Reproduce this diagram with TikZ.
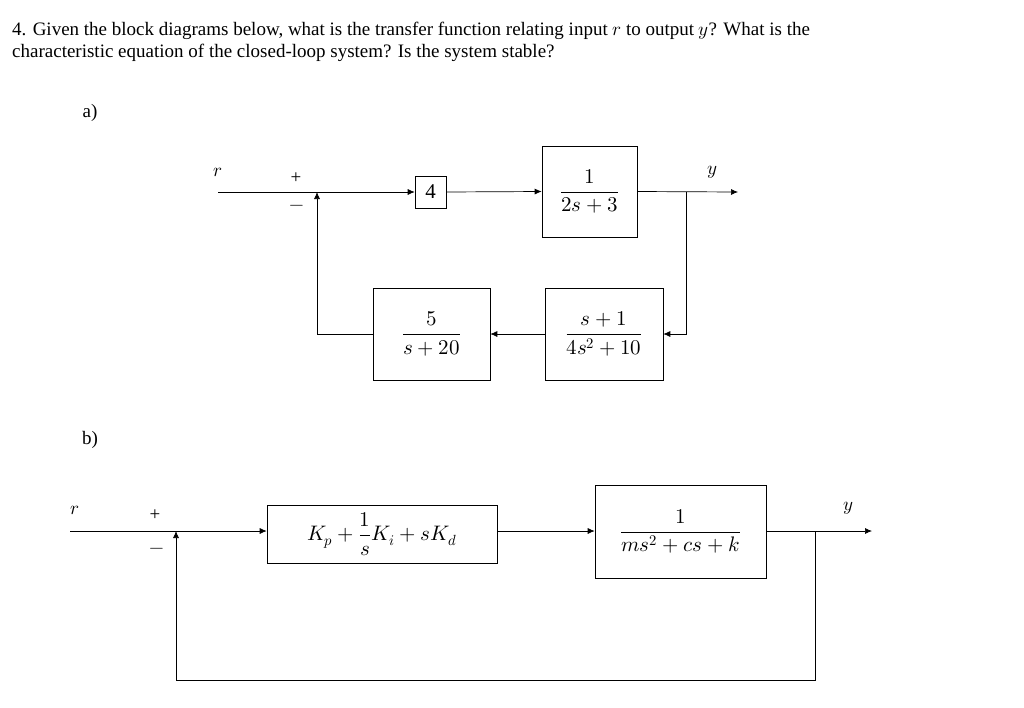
\documentclass[tikz,border=0pt]{standalone}
\usepackage{amsmath}
\usepackage{fontspec}
\usepackage{unicode-math}
\setmainfont{Liberation Serif}
\setmathfont{Latin Modern Math}
\usetikzlibrary{arrows.meta}
\begin{document}
\begin{tikzpicture}[x=1pt,y=-1pt,
  blk/.style={draw,line width=0.6pt,inner sep=0pt},
  ln/.style={line width=0.7pt},
  ar/.style={line width=0.7pt,-{Latex[length=7pt,width=6pt]}},
  lbl/.style={font=\fontsize{19}{22}\selectfont},
  mth/.style={font=\fontsize{21}{24}\selectfont}]
\useasboundingbox (0,0) rectangle (1024,707);
\node[lbl,anchor=north west,align=left,inner sep=0pt] (title) at (12,22)
 {4. Given the block diagrams below, what is the transfer function relating input $r$ to output $y$? What is the\\characteristic equation of the closed-loop system? Is the system stable?};
\node[lbl] (la) at (90,113) {a)};
\node[lbl] (lb) at (90,440) {b)};
% diagram a
\coordinate (ain) at (218,192);
\coordinate (asum) at (317,192);
\node[blk,minimum width=31pt,minimum height=32pt,mth] (b4) at (430.5,192) {4};
\node[blk,minimum width=95pt,minimum height=91pt,mth] (g1) at (589.5,191.5) {$\dfrac{1}{2s+3}$};
\node[blk,minimum width=118pt,minimum height=92pt,mth] (h1) at (604,334) {$\dfrac{s+1}{4s^2+10}$};
\node[blk,minimum width=117pt,minimum height=92pt,mth] (h2) at (431.5,334) {$\dfrac{5}{s+20}$};
\coordinate (aout) at (738,192);
\coordinate (abr) at (686,192);
\coordinate (afb) at (317,334);
\draw[ln] (ain) -- (asum);
\draw[ar] (asum) -- (b4.west);
\draw[ar] (b4.east) -- (g1.west);
\draw[ar] (g1.east) -- (aout);
\draw[ar] (abr) |- (h1.east);
\draw[ar] (h1.west) -- (h2.east);
\draw[ar] (h2.west) -- (afb) -- (asum);
\node[lbl] (ar1) at (218,172) {$r$};
\node[lbl] (ay1) at (712,172) {$y$};
\node[lbl] (ap1) at (296,178) {+};
\node[lbl] (am1) at (297,208) {$-$};
% diagram b
\coordinate (bin) at (70,531);
\coordinate (bsum) at (176,531);
\node[blk,minimum width=230pt,minimum height=58pt,mth] (pid) at (382,534) {$K_p+\dfrac{1}{s}K_i+sK_d$};
\node[blk,minimum width=171pt,minimum height=93pt,mth] (pl) at (680.5,531.5) {$\dfrac{1}{ms^2+cs+k}$};
\coordinate (bout) at (872,531);
\coordinate (bbr) at (815,531);
\coordinate (bbot) at (815,680);
\coordinate (bfb) at (176,680);
\draw[ln] (bin) -- (bsum);
\draw[ar] (bsum) -- (pid.west |- bsum);
\draw[ar] (pid.east |- bsum) -- (pl.west |- bsum);
\draw[ar] (pl.east |- bsum) -- (bout);
\draw[ar] (bbr) -- (bbot) -- (bfb) -- (bsum);
\node[lbl] (br1) at (75,510) {$r$};
\node[lbl] (by1) at (848,508) {$y$};
\node[lbl] (bp1) at (155,515) {+};
\node[lbl] (bm1) at (157,551) {$-$};
\end{tikzpicture}
\end{document}
